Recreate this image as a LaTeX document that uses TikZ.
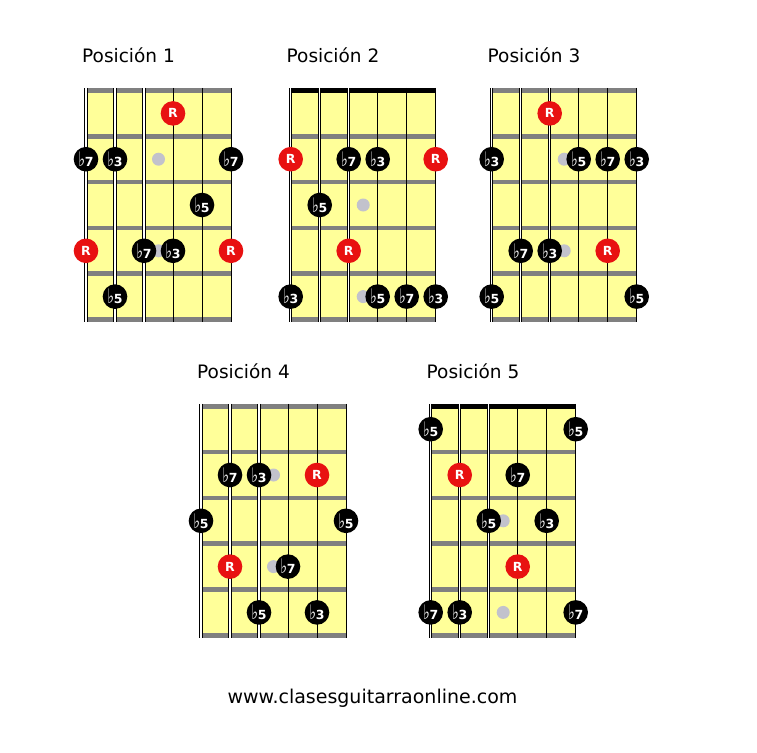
\documentclass[tikz,border=0pt]{standalone}
\usepackage{fontspec}
\setmainfont{DejaVu Sans}
\definecolor{neckyellow}{RGB}{255,255,153}
\definecolor{fretgray}{RGB}{128,128,128}
\definecolor{rootred}{RGB}{232,17,17}
\definecolor{inlaygray}{RGB}{194,194,204}
\newcommand{\fl}{{\mdseries\scalebox{1.15}[1.6]{♭}\kern-0.3pt}}

\begin{document}
\begin{tikzpicture}[x=1pt,y=-1pt,
    note/.style={circle,fill=black,text=white,minimum size=24.6pt,inner sep=0pt,
                 font=\fontsize{12.5}{14}\selectfont\bfseries},
    root node/.style={note,fill=rootred},
    inlay/.style={circle,fill=inlaygray,minimum size=13pt,inner sep=0pt},
    title/.style={anchor=base west,inner sep=0pt,font=\fontsize{18.5}{22}\selectfont},
    neck/.pic={
      \fill[neckyellow] (0,0) rectangle (5,5);
      \foreach \f in {1,...,5}
        \draw[fretgray,line width=4.6pt] (0,\f) -- (5,\f);
      \draw[#1,line width=5pt] (0,0) -- (5,0);
      \foreach \s in {3,4,5}
        \draw[line width=1pt] (\s,-0.055) -- (\s,5.06);
      \foreach \s in {0,1,2} {
        \draw[line width=3.4pt] (\s,-0.055) -- (\s,5.06);
        \draw[white,line width=1.4pt] (\s,-0.055) -- (\s,5.06);
      }
    }]
\fill[white] (0,0) rectangle (757,752);
\useasboundingbox (0,0) rectangle (757,752);

\node[title] (t1) at (82,63) {Posición 1};
\node[title] (t2) at (286.5,63) {Posición 2};
\node[title] (t3) at (487.5,63) {Posición 3};
\node[title] (t4) at (197,378.8) {Posición 4};
\node[title] (t5) at (426.5,378.8) {Posición 5};

% posicion 1
\begin{scope}[shift={(86,90.5)},x=29pt,y=-45.8pt]
  \pic {neck=fretgray};
  \node[inlay] (a0) at (2.5,1.5) {};
  \node[inlay] (a00) at (2.5,3.5) {};
  \node[root node] (a1) at (3,0.5) {R};
  \node[note] (a2) at (0,1.5) {\fl7};
  \node[note] (a3) at (1,1.5) {\fl3};
  \node[note] (a4) at (5,1.5) {\fl7};
  \node[note] (a5) at (4,2.5) {\fl5};
  \node[root node] (a6) at (0,3.5) {R};
  \node[note] (a7) at (2,3.5) {\fl7};
  \node[note] (a8) at (3,3.5) {\fl3};
  \node[root node] (a9) at (5,3.5) {R};
  \node[note] (a10) at (1,4.5) {\fl5};
\end{scope}

% posicion 2
\begin{scope}[shift={(290.7,90.5)},x=29pt,y=-45.8pt]
  \pic {neck=black};
  \node[inlay] (b0) at (2.5,2.5) {};
  \node[inlay] (b00) at (2.5,4.5) {};
  \node[root node] (b1) at (0,1.5) {R};
  \node[note] (b2) at (2,1.5) {\fl7};
  \node[note] (b3) at (3,1.5) {\fl3};
  \node[root node] (b4) at (5,1.5) {R};
  \node[note] (b5) at (1,2.5) {\fl5};
  \node[root node] (b6) at (2,3.5) {R};
  \node[note] (b7) at (0,4.5) {\fl3};
  \node[note] (b8) at (3,4.5) {\fl5};
  \node[note] (b9) at (4,4.5) {\fl7};
  \node[note] (b10) at (5,4.5) {\fl3};
\end{scope}

% posicion 3
\begin{scope}[shift={(491.7,90.5)},x=29pt,y=-45.8pt]
  \pic {neck=fretgray};
  \node[inlay] (c0) at (2.5,1.5) {};
  \node[inlay] (c00) at (2.5,3.5) {};
  \node[root node] (c1) at (2,0.5) {R};
  \node[note] (c2) at (0,1.5) {\fl3};
  \node[note] (c3) at (3,1.5) {\fl5};
  \node[note] (c4) at (4,1.5) {\fl7};
  \node[note] (c5) at (5,1.5) {\fl3};
  \node[note] (c6) at (1,3.5) {\fl7};
  \node[note] (c7) at (2,3.5) {\fl3};
  \node[root node] (c8) at (4,3.5) {R};
  \node[note] (c9) at (0,4.5) {\fl5};
  \node[note] (c10) at (5,4.5) {\fl5};
\end{scope}

% posicion 4
\begin{scope}[shift={(201,406.3)},x=29pt,y=-45.8pt]
  \pic {neck=fretgray};
  \node[inlay] (d0) at (2.5,1.5) {};
  \node[inlay] (d00) at (2.5,3.5) {};
  \node[note] (d1) at (1,1.5) {\fl7};
  \node[note] (d2) at (2,1.5) {\fl3};
  \node[root node] (d3) at (4,1.5) {R};
  \node[note] (d4) at (0,2.5) {\fl5};
  \node[note] (d5) at (5,2.5) {\fl5};
  \node[root node] (d6) at (1,3.5) {R};
  \node[note] (d7) at (3,3.5) {\fl7};
  \node[note] (d8) at (2,4.5) {\fl5};
  \node[note] (d9) at (4,4.5) {\fl3};
\end{scope}

% posicion 5
\begin{scope}[shift={(430.7,406.3)},x=29pt,y=-45.8pt]
  \pic {neck=black};
  \node[inlay] (e0) at (2.5,2.5) {};
  \node[inlay] (e00) at (2.5,4.5) {};
  \node[note] (e1) at (0,0.5) {\fl5};
  \node[note] (e2) at (5,0.5) {\fl5};
  \node[root node] (e3) at (1,1.5) {R};
  \node[note] (e4) at (3,1.5) {\fl7};
  \node[note] (e5) at (2,2.5) {\fl5};
  \node[note] (e6) at (4,2.5) {\fl3};
  \node[root node] (e7) at (3,3.5) {R};
  \node[note] (e8) at (0,4.5) {\fl7};
  \node[note] (e9) at (1,4.5) {\fl3};
  \node[note] (e10) at (5,4.5) {\fl7};
\end{scope}

\node[anchor=base,inner sep=0pt,font=\fontsize{19}{22}\selectfont] (web)
  at (372.5,703.3) {www.clasesguitarraonline.com};
\end{tikzpicture}
\end{document}
